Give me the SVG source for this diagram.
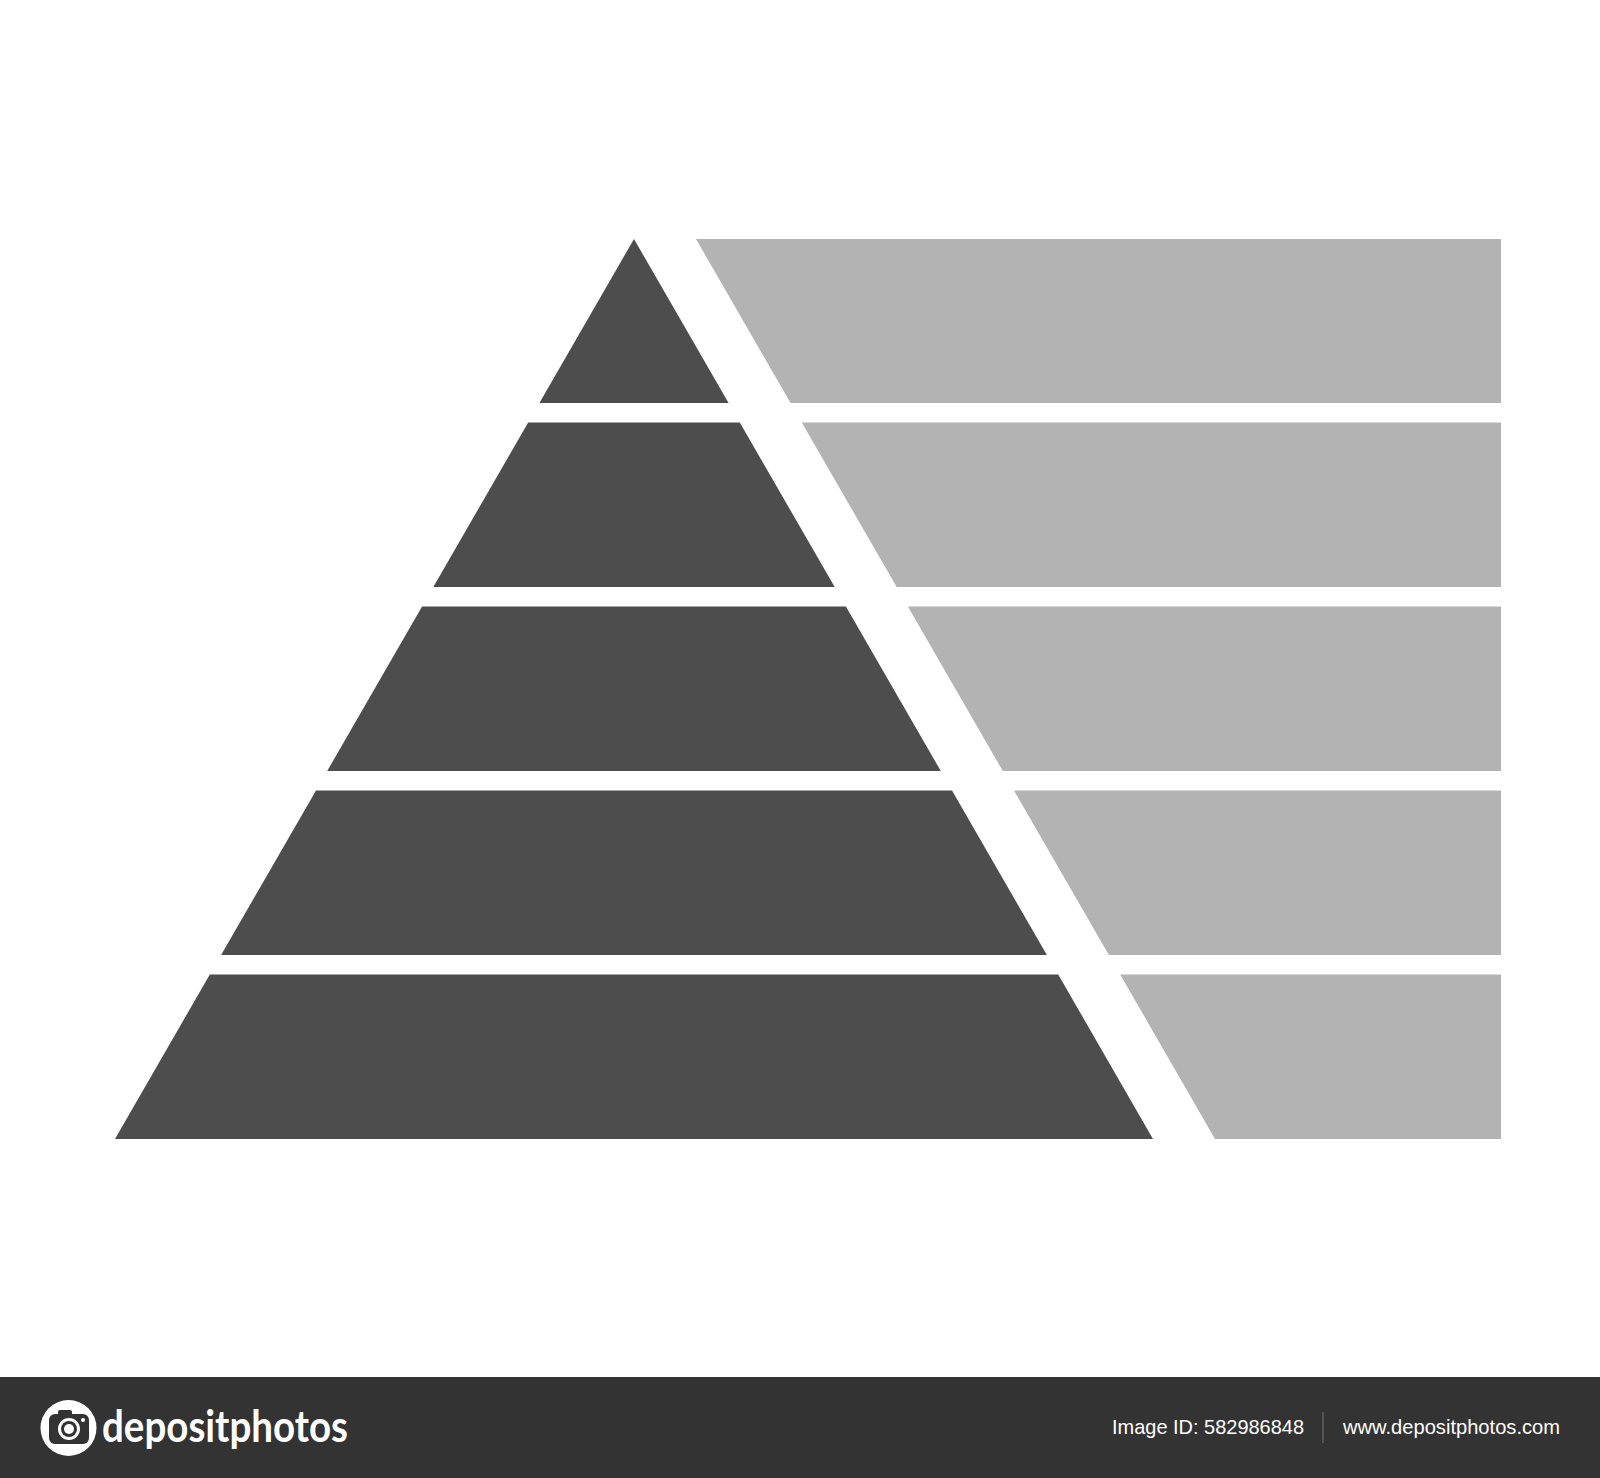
<svg xmlns="http://www.w3.org/2000/svg" width="1600" height="1478" viewBox="0 0 1600 1478">
<style>
.dark{fill:#4d4d4d}
.light{fill:#b3b3b3}
.ft{fill:#ffffff;font-family:"Liberation Sans",Arial,sans-serif;font-size:21px}
.logo{fill:#ffffff;font-family:Lato,"Open Sans",sans-serif;font-weight:bold;font-size:44px}
</style>
<rect width="1600" height="1478" fill="#ffffff"/>
<g id="pyramid">
<g id="tier1"><polygon class="dark" points="634,239 728.6,403 539.4,403"/></g>
<g id="tier2"><polygon class="dark" points="528.2,422.5 739.8,422.5 834.7,587 433.3,587"/></g>
<g id="tier3"><polygon class="dark" points="422.1,606.5 845.9,606.5 940.8,771 327.2,771"/></g>
<g id="tier4"><polygon class="dark" points="316,790.5 952,790.5 1046.9,955 221.1,955"/></g>
<g id="tier5"><polygon class="dark" points="209.8,974.5 1058.2,974.5 1153,1139 115,1139"/></g>
</g>
<g id="bars">
<g id="bar1"><polygon class="light" points="696,239 1501,239 1501,403 790.6,403"/></g>
<g id="bar2"><polygon class="light" points="801.8,422.5 1501,422.5 1501,587 896.7,587"/></g>
<g id="bar3"><polygon class="light" points="907.9,606.5 1501,606.5 1501,771 1002.8,771"/></g>
<g id="bar4"><polygon class="light" points="1014,790.5 1501,790.5 1501,955 1108.9,955"/></g>
<g id="bar5"><polygon class="light" points="1120.2,974.5 1501,974.5 1501,1139 1215,1139"/></g>
</g>
<g id="connectors"/>
<g id="footer">
<rect x="0" y="1377" width="1600" height="101" fill="#333333"/>
<circle cx="68.5" cy="1428" r="28" fill="#ffffff"/>
<rect x="49" y="1414" width="40" height="30" rx="6" fill="#333333"/>
<rect x="58" y="1410" width="14" height="6" rx="2" fill="#333333"/>
<circle cx="69" cy="1429" r="11" fill="#ffffff"/>
<circle cx="69" cy="1429" r="8" fill="#333333"/>
<circle cx="69" cy="1429" r="5" fill="#ffffff"/>
<circle cx="83" cy="1420" r="2" fill="#ffffff"/>
<text class="logo" x="102" y="1442" textLength="246" lengthAdjust="spacingAndGlyphs">depositphotos</text>
<text class="ft" x="1112" y="1434" textLength="192" lengthAdjust="spacingAndGlyphs">Image ID: 582986848</text>
<line x1="1323" y1="1412" x2="1323" y2="1443" stroke="#777777" stroke-width="1"/>
<text class="ft" x="1343" y="1434" textLength="217" lengthAdjust="spacingAndGlyphs">www.depositphotos.com</text>
</g>
</svg>
